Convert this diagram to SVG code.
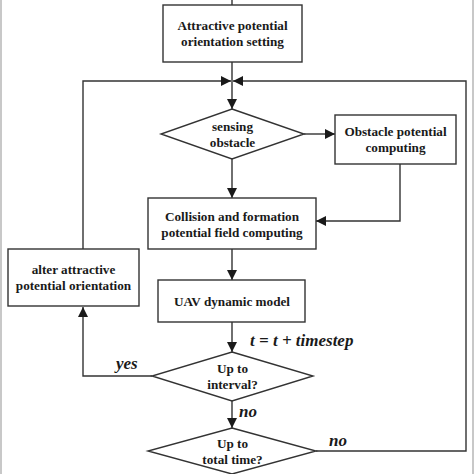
<svg xmlns="http://www.w3.org/2000/svg" width="474" height="474" viewBox="0 0 474 474">
<defs>
<marker id="ah" viewBox="0 0 10 10" refX="10" refY="5" markerWidth="10" markerHeight="10" markerUnits="userSpaceOnUse" orient="auto">
<path d="M0,0 L10,5 L0,10 Z" fill="#1a1a1a"/>
</marker>
</defs>
<style>
.box{fill:#fff;stroke:#333;stroke-width:1.4}
.ln{fill:none;stroke:#333;stroke-width:1.4}
.t{font-family:"Liberation Serif","Times New Roman",serif;font-weight:bold;font-size:13.2px;fill:#1a1a1a;text-anchor:middle}
.i{font-family:"Liberation Serif","Times New Roman",serif;font-weight:bold;font-style:italic;font-size:17px;fill:#1a1a1a}
</style>
<rect x="0" y="0" width="474" height="474" fill="#fff"/>
<rect x="0" y="0" width="2" height="474" fill="#c8c8c8"/>
<rect x="472" y="0" width="2" height="474" fill="#c8c8c8"/>
<g id="connectors">
<line class="ln" x1="232" y1="0" x2="232" y2="5"/>
<line class="ln" x1="232" y1="62" x2="232" y2="109" marker-end="url(#ah)"/>
<polyline class="ln" points="83,249 83,81 231,81" marker-end="url(#ah)"/>
<polyline class="ln" points="316,451 466,451 466,81 233,81" marker-end="url(#ah)"/>
<line class="ln" x1="304" y1="134" x2="335" y2="134" marker-end="url(#ah)"/>
<line class="ln" x1="232" y1="159" x2="232" y2="198" marker-end="url(#ah)"/>
<polyline class="ln" points="400,164 400,221 316,221" marker-end="url(#ah)"/>
<line class="ln" x1="232" y1="249" x2="232" y2="280" marker-end="url(#ah)"/>
<line class="ln" x1="232" y1="322" x2="232" y2="352" marker-end="url(#ah)"/>
<polyline class="ln" points="152,376 83,376 83,307" marker-end="url(#ah)"/>
<line class="ln" x1="232" y1="401" x2="232" y2="428" marker-end="url(#ah)"/>
<text class="i" x="250" y="346">t = t + timestep</text>
<text class="i" x="116" y="369">yes</text>
<text class="i" x="239" y="417">no</text>
<text class="i" x="329" y="446">no</text>
</g>
<g id="n-attractive">
<rect class="box" x="163" y="5" width="139" height="57"/>
<text class="t" x="232.5" y="30">Attractive potential</text>
<text class="t" x="232.5" y="46">orientation setting</text>
</g>
<g id="n-sensing">
<polygon class="box" points="232,109 304,134 232,159 161,134"/>
<text class="t" x="232.5" y="131">sensing</text>
<text class="t" x="232.5" y="147">obstacle</text>
</g>
<g id="n-obstacle">
<rect class="box" x="335" y="115" width="121" height="49"/>
<text class="t" x="395.5" y="136">Obstacle potential</text>
<text class="t" x="395.5" y="152">computing</text>
</g>
<g id="n-collision">
<rect class="box" x="148" y="198" width="168" height="51"/>
<text class="t" x="232" y="221">Collision and formation</text>
<text class="t" x="232" y="237">potential field computing</text>
</g>
<g id="n-alter">
<rect class="box" x="8" y="249" width="131" height="57"/>
<text class="t" x="73.5" y="274">alter attractive</text>
<text class="t" x="73.5" y="290">potential orientation</text>
</g>
<g id="n-uav">
<rect class="box" x="158" y="280" width="147" height="42"/>
<text class="t" x="232" y="305.5">UAV dynamic model</text>
</g>
<g id="n-interval">
<polygon class="box" points="232,352 313,376 232,401 152,376"/>
<text class="t" x="232.5" y="373">Up to</text>
<text class="t" x="232.5" y="389">interval?</text>
</g>
<g id="n-total">
<polygon class="box" points="232,428 316,451 232,474 148,451"/>
<text class="t" x="232.5" y="448">Up to</text>
<text class="t" x="232.5" y="464">total time?</text>
</g>
</svg>
